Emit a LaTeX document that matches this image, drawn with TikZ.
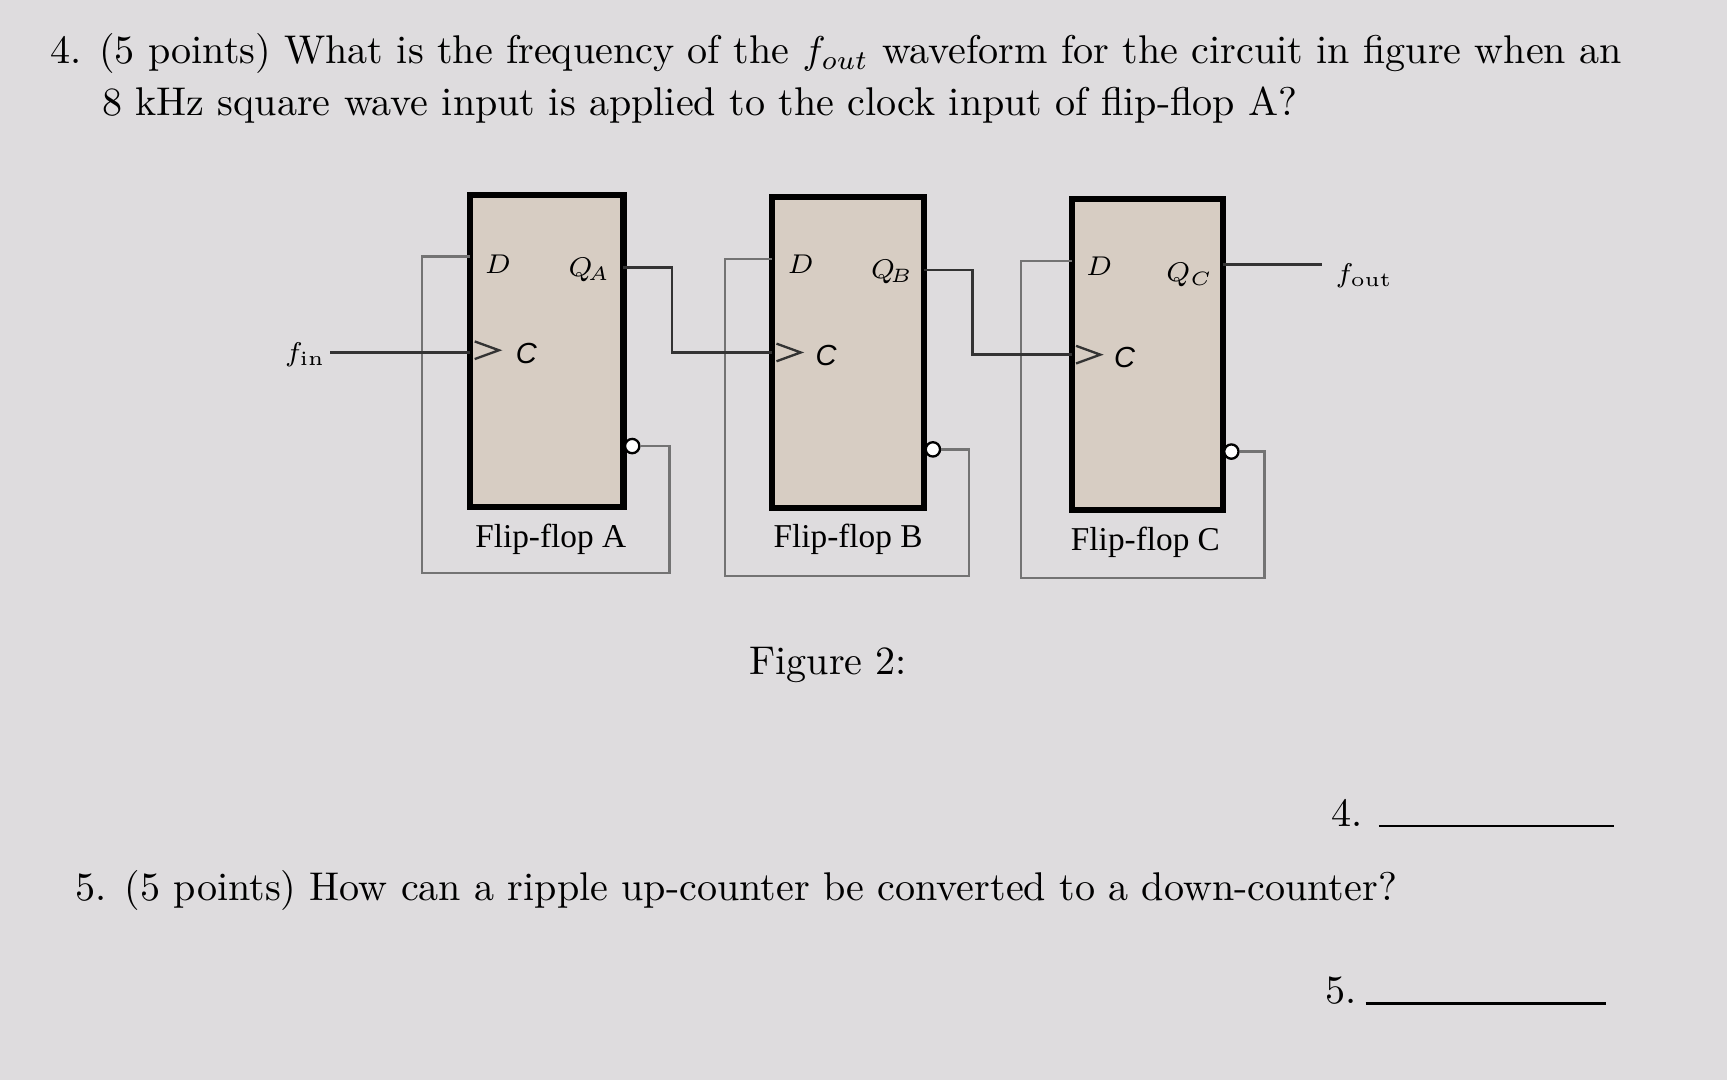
\documentclass[tikz,border=0pt]{standalone}
\usepackage{fontspec}
\newfontfamily\ffs{Liberation Sans}
\newfontfamily\ffr{Liberation Serif}
\begin{document}
\begin{tikzpicture}[x=0.01cm,y=-0.01cm,
 ff/.style={draw=black,line width=1.6pt,fill=ffbg},
 wire/.style={draw=black!80,line width=0.6pt},
 fb/.style={draw=black!55,line width=0.6pt},
 txt/.style={anchor=base west,inner sep=0pt,font=\fontsize{10.35}{12}\selectfont},
 lab/.style={inner sep=0pt,font=\fontsize{7.5}{9}\selectfont},
 nm/.style={inner sep=0pt,font=\ffr\fontsize{8.6}{10}\selectfont},
 bub/.style={circle,draw=black,line width=0.6pt,fill=white,inner sep=0pt,minimum size=0.13cm}]
\definecolor{ffbg}{RGB}{215,205,195}
\definecolor{paper}{RGB}{222,220,222}
\useasboundingbox (0,0) rectangle (1568,981);
\fill[paper] (0,0) rectangle (1568,981);
% question text
\node[txt] (q4a) at (45,58) {4. (5 points) What is the frequency of the $f_{out}$ waveform for the circuit in figure when an};
\node[txt] (q4b) at (92,105) {8 kHz square wave input is applied to the clock input of flip-flop A?};
% flip-flops
\node[ff,minimum width=1.39cm,minimum height=2.83cm,inner sep=0pt] (A) at (496.5,318.5) {};
\node[ff,minimum width=1.38cm,minimum height=2.82cm,inner sep=0pt] (B) at (770,320) {};
\node[ff,minimum width=1.37cm,minimum height=2.82cm,inner sep=0pt] (C) at (1041.5,322) {};
% labels
\node[lab] (DA) at (452,240) {$D$};
\node[lab] (QA) at (535,245) {$Q_{\!A}$};
\node[lab] (CA) at (478,321) {\ffs\itshape C};
\node[lab] (DB) at (727,240) {$D$};
\node[lab] (QB) at (810,247) {$Q_{\!B}$};
\node[lab] (CB) at (750,323) {\ffs\itshape C};
\node[lab] (DC) at (998,242) {$D$};
\node[lab] (QC) at (1080,250) {$Q_{C}$};
\node[lab] (CC) at (1021,325) {\ffs\itshape C};
% clock triangles
\draw[wire] (431,310) -- (453,318) -- (431,326);
\draw[wire] (705,312) -- (727,320) -- (705,328);
\draw[wire] (977,314) -- (999,322) -- (977,330);
% bubbles
\node[bub] (bA) at (574,405) {};
\node[bub] (bB) at (847,408) {};
\node[bub] (bC) at (1118,410) {};
% feedback loops
\coordinate (dA) at (427,233); \coordinate (dB) at (701,235); \coordinate (dC) at (973,237);
\draw[fb] (bA.east) -- (608,405) -- (608,520) -- (383,520) -- (383,233) -- (dA);
\draw[fb] (bB.east) -- (880,408) -- (880,523) -- (658,523) -- (658,235) -- (dB);
\draw[fb] (bC.east) -- (1148,410) -- (1148,525) -- (927,525) -- (927,237) -- (dC);
% Q to next clock
\coordinate (oA) at (566,243); \coordinate (cB) at (701,320);
\coordinate (oB) at (839,245); \coordinate (cC) at (973,322);
\coordinate (oC) at (1110,240); \coordinate (cA) at (427,320);
\coordinate (oCe) at (1200,240); \coordinate (fie) at (300,320);
\draw[wire] (oA) -- (610,243) -- (610,320) -- (cB);
\draw[wire] (oB) -- (883,245) -- (883,322) -- (cC);
\node[lab,anchor=west] (fout) at (1212,250) {$f_{\mathrm{out}}$};
\node[lab,anchor=east] (fin) at (296,322) {$f_{\mathrm{in}}$};
\draw[wire] (oC) -- (oCe);
\draw[wire] (fie) -- (cA);
% flip-flop names
\node[nm] (nA) at (500,490) {Flip-flop A};
\node[nm] (nB) at (770,490) {Flip-flop B};
\node[nm] (nC) at (1040,492) {Flip-flop C};
\node[inner sep=0pt,font=\fontsize{10.35}{12}\selectfont] (fig) at (752,604) {Figure 2:};
% answers
\node[txt] (a4) at (1208,750) {4.};
\coordinate (l4a) at (1252,750); \coordinate (l4b) at (1465,750);
\draw[line width=0.7pt] (l4a) -- (l4b);
\node[txt] (q5) at (68,818) {5. (5 points) How can a ripple up-counter be converted to a down-counter?};
\node[txt] (a5) at (1203,911) {5.};
\coordinate (l5a) at (1240,911); \coordinate (l5b) at (1458,911);
\draw[line width=0.7pt] (l5a) -- (l5b);
\end{tikzpicture}
\end{document}
